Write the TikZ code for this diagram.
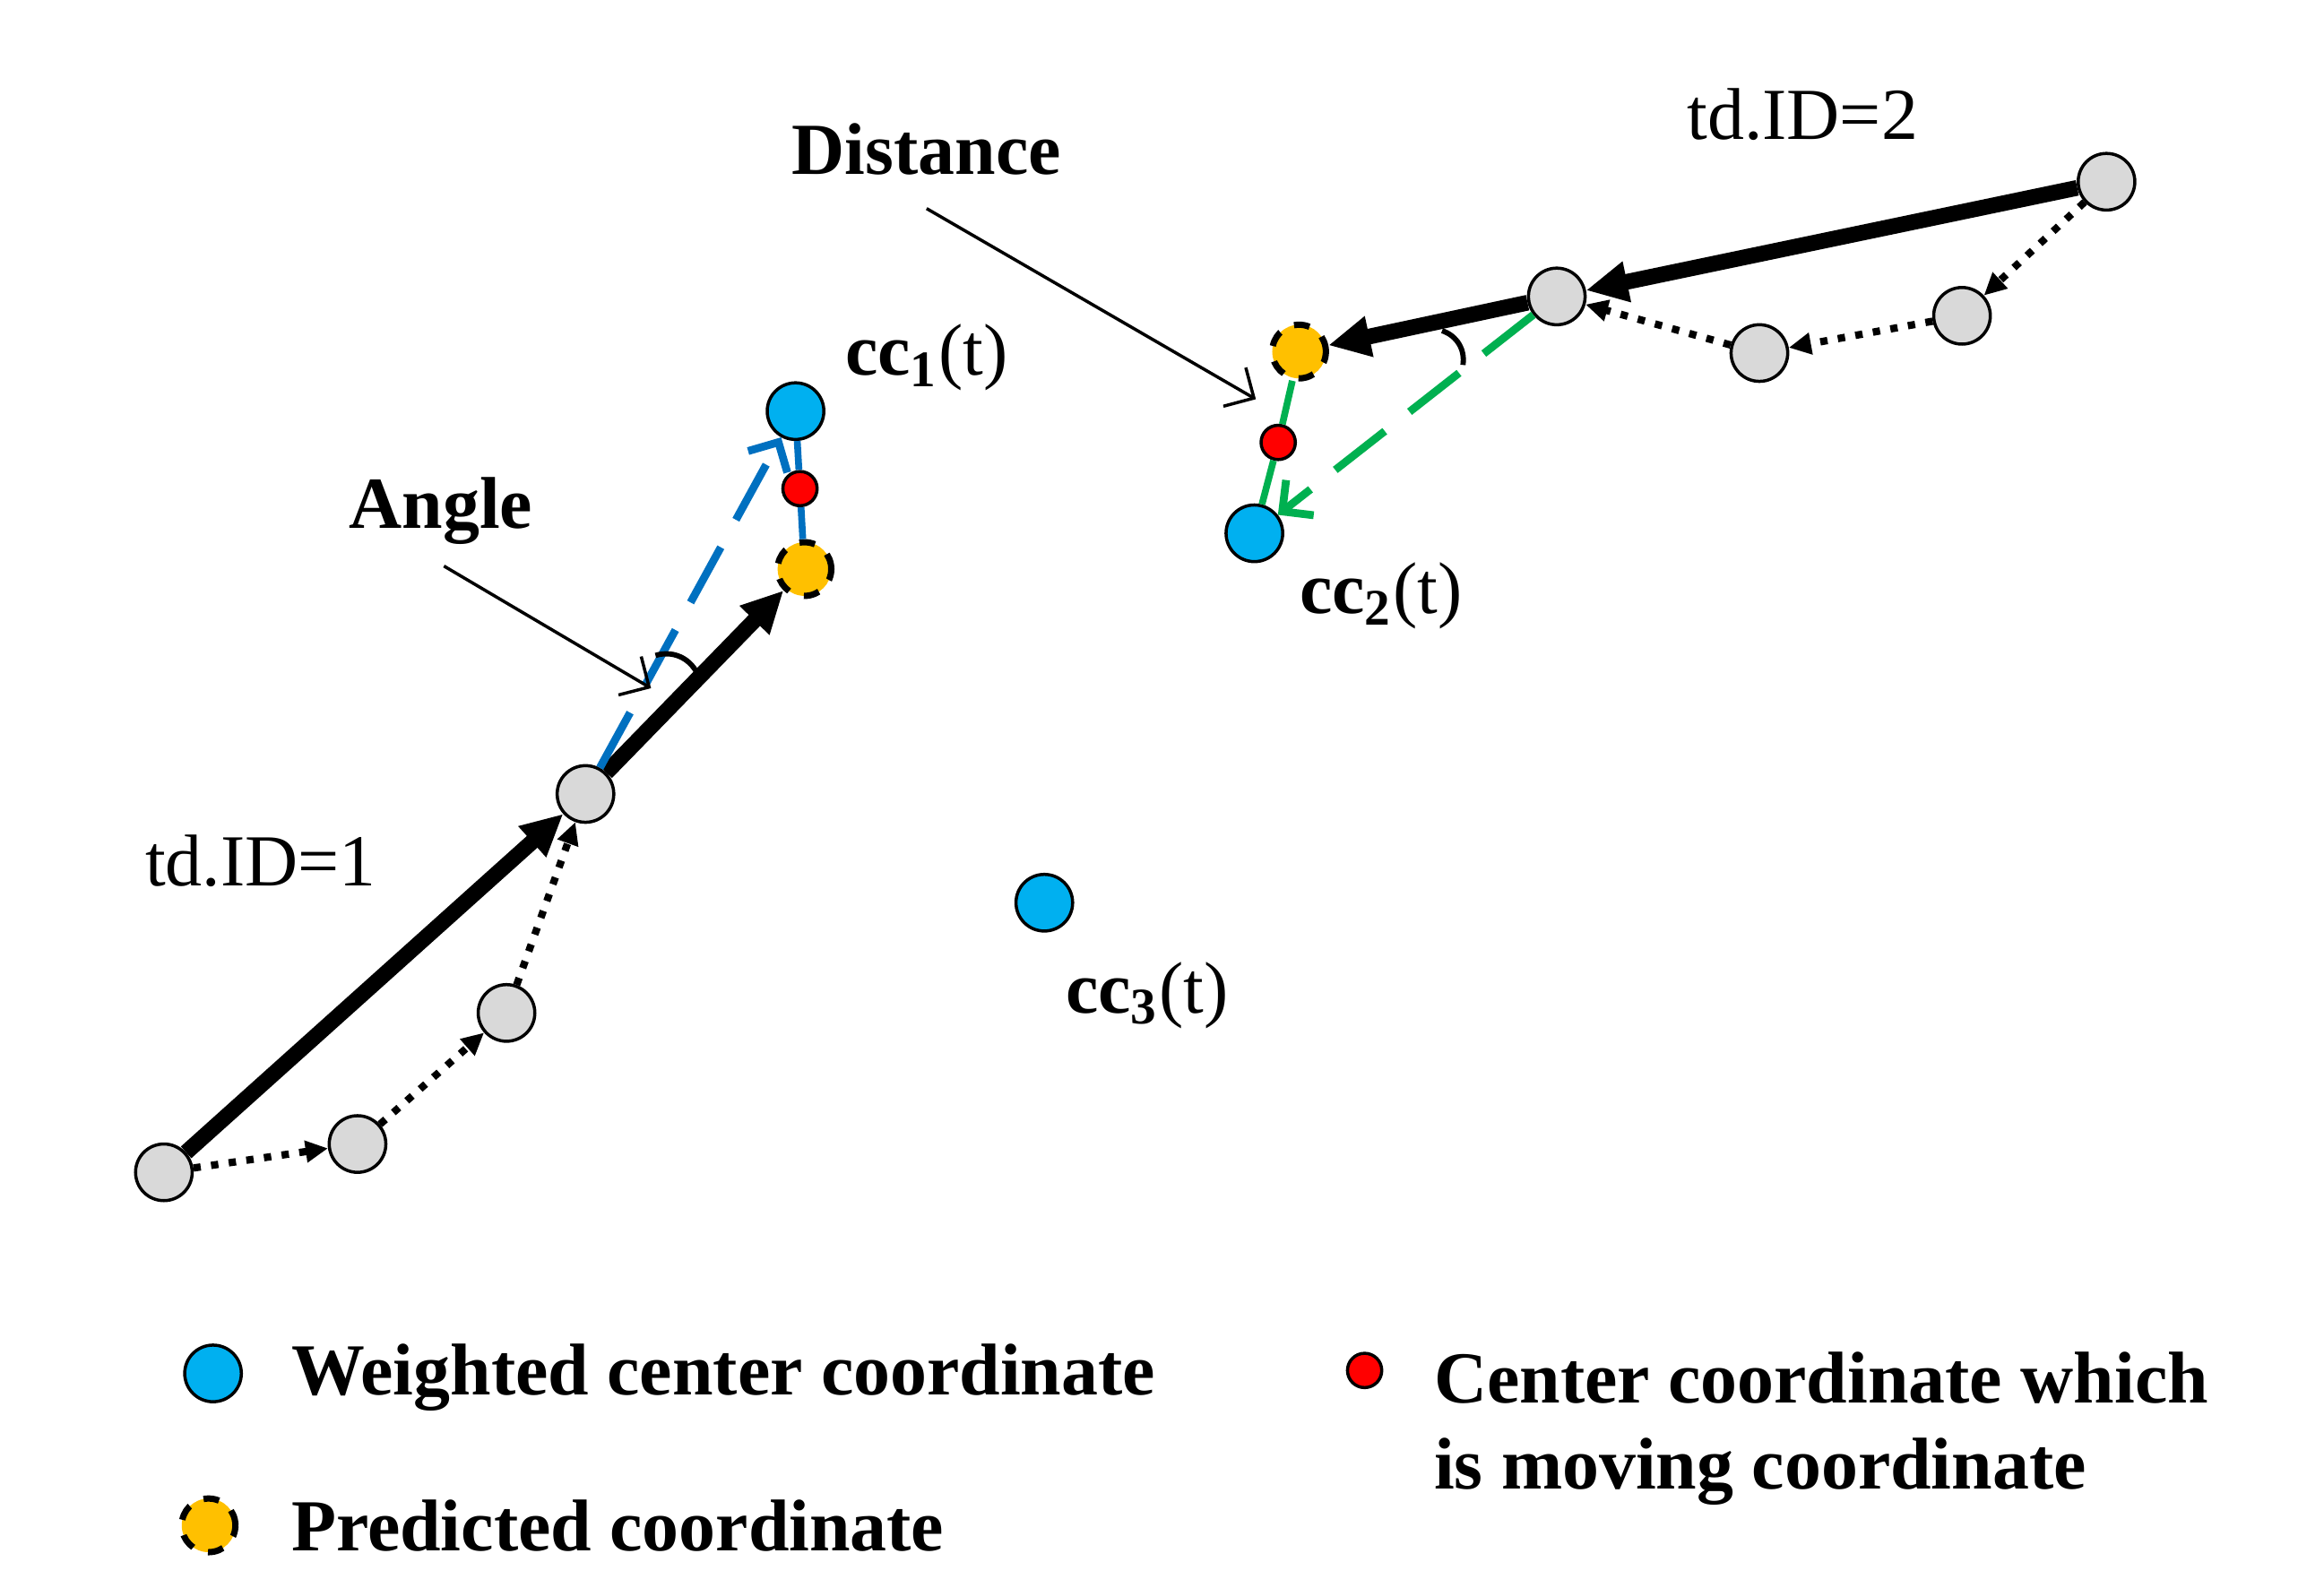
\documentclass[tikz,border=0pt]{standalone}
\usepackage{fontspec}
\setmainfont{Liberation Serif}
\usetikzlibrary{arrows.meta}
\definecolor{cblue}{RGB}{0,176,240}
\definecolor{dblue}{RGB}{0,112,192}
\definecolor{corange}{RGB}{255,192,0}
\definecolor{cgray}{RGB}{217,217,217}
\definecolor{cgreen}{RGB}{0,176,80}
\tikzset{
 gp/.style={circle,draw=black,fill=cgray,minimum size=0.38cm,inner sep=0pt,line width=0.6pt},
 bp/.style={circle,draw=black,fill=cblue,minimum size=0.38cm,inner sep=0pt,line width=0.6pt},
 pp/.style={circle,draw=black,dashed,fill=corange,minimum size=0.36cm,inner sep=0pt,line width=1.2pt},
 rp/.style={circle,draw=black,fill=red,minimum size=0.23cm,inner sep=0pt,line width=0.6pt},
 thick arr/.style={line width=3pt,-{Triangle[length=0.28cm,width=0.26cm]}},
 dot arr/.style={line width=1.4pt,dotted,-{Triangle[length=0.15cm,width=0.14cm]}},
 txt/.style={font=\fontsize{14}{16}\selectfont,inner sep=0pt},
 btxt/.style={font=\fontsize{14}{16}\selectfont\bfseries,inner sep=0pt},
}
\begin{document}
\begin{tikzpicture}[x=0.01cm,y=-0.01cm]
\useasboundingbox (0,0) rectangle (1560,1066);
% track 1
\node[gp] (a1) at (110,787) {};
\node[gp] (a2) at (240,768) {};
\node[gp] (a3) at (340,680) {};
\node[gp] (a4) at (393,533) {};
\node[pp] (p1) at (540,382) {};
\node[bp] (b1) at (534,276) {};
\node[rp] (r1) at (537,328) {};
\draw[dblue,line width=1.3pt] (b1)--(r1)--(p1);
\draw[dot arr] (a1)--(a2);
\draw[dot arr] (a2)--(a3);
\draw[dot arr] (a3)--(a4);
\draw[thick arr] (a1)--(a4);
\draw[thick arr] (a4)--(p1);
\draw[dblue,line width=1.5pt,dash pattern=on 12pt off 6pt,-{Straight Barb[length=0.15cm]}] (a4)--(b1);
\draw[line width=1pt] (440,440) to[bend left=40] (468,452);
% track 2
\node[gp] (g1) at (1414,122) {};
\node[gp] (g2) at (1317,212) {};
\node[gp] (g3) at (1181,237) {};
\node[gp] (g4) at (1045,199) {};
\node[pp] (p2) at (872,236) {};
\node[rp] (r2) at (858,297) {};
\node[bp] (b2) at (842,358) {};
\draw[cgreen,line width=1.3pt] (p2)--(r2)--(b2);
\draw[dot arr] (g1)--(g2);
\draw[dot arr] (g2)--(g3);
\draw[dot arr] (g3)--(g4);
\draw[thick arr] (g1)--(g4);
\draw[thick arr] (g4)--(p2);
\draw[cgreen,line width=1.5pt,dash pattern=on 12pt off 6pt,-{Straight Barb[length=0.15cm]}] (g4)--(b2);
\draw[line width=1pt] (968,222) to[bend left=40] (982,245);
% cc3
\node[bp] (b3) at (701,606) {};
% labels
\node[btxt] (angle) at (296,343) {Angle};
\coordinate (angtip) at (437,462);
\draw[line width=0.6pt,-{Straight Barb[length=0.15cm]}] (298,380)--(angtip);
\node[btxt] (dist) at (622,100) {Distance};
\coordinate (disttip) at (843,268);
\draw[line width=0.6pt,-{Straight Barb[length=0.15cm]}] (622,140)--(disttip);
\node[txt] (td1) at (175,578) {td.ID=1};
\node[txt] (td2) at (1210,77) {td.ID=2};
\node[txt] (c1) at (622,240) {\textbf{cc\textsubscript{1}}(t)};
\node[txt] (c2) at (927,400) {\textbf{cc\textsubscript{2}}(t)};
\node[txt] (c3) at (770,668) {\textbf{cc\textsubscript{3}}(t)};
% legend
\node[bp] (l1) at (143,922) {};
\node[btxt,anchor=west] (l1t) at (195,925) {Weighted center coordinate};
\node[pp] (l2) at (140,1024) {};
\node[btxt,anchor=west] (l2t) at (195,1024) {Predicted coordinate};
\node[rp] (l3) at (916,920) {};
\node[btxt,anchor=west] (l3t) at (962,925) {Center coordinate which};
\node[btxt,anchor=west] (l3u) at (962,988) {is moving coordinate};
\end{tikzpicture}
\end{document}
